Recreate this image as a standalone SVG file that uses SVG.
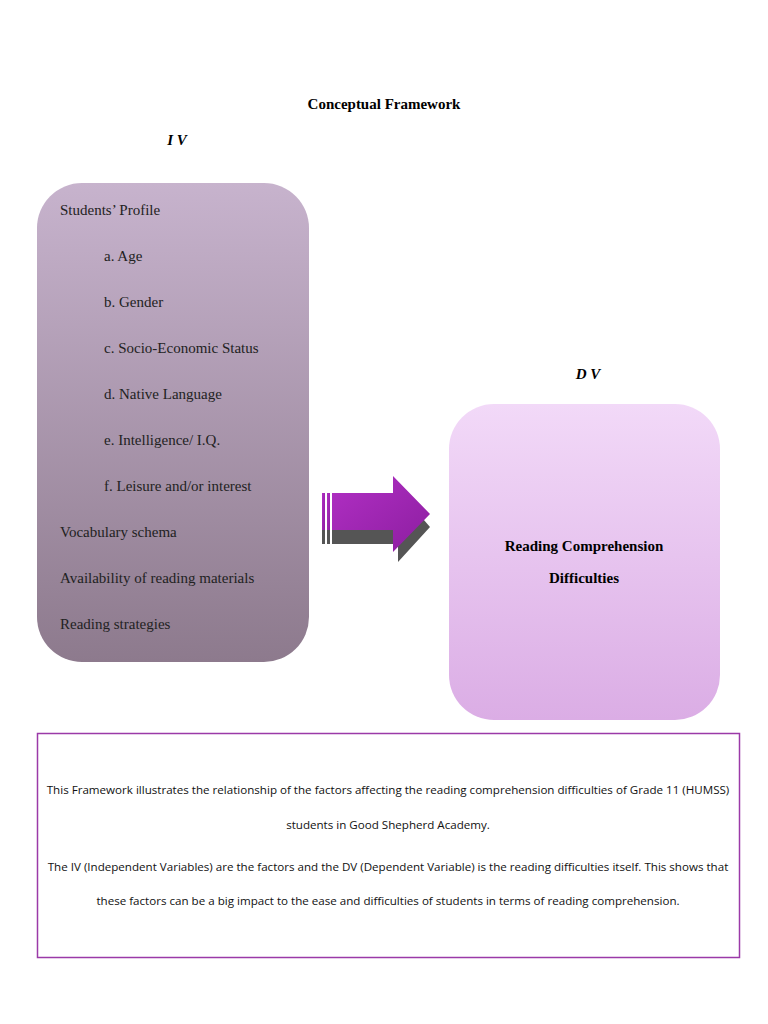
<svg xmlns="http://www.w3.org/2000/svg" width="768" height="1024" viewBox="0 0 768 1024">
<defs>
<linearGradient id="gl" x1="0" y1="0" x2="0" y2="1"><stop offset="0" stop-color="#c7b3cd"/><stop offset="1" stop-color="#8d7a8d"/></linearGradient>
<linearGradient id="gr" x1="0" y1="0" x2="0" y2="1"><stop offset="0" stop-color="#f2d9f8"/><stop offset="1" stop-color="#dbade5"/></linearGradient>
<linearGradient id="ga" x1="0" y1="0" x2="1" y2="1"><stop offset="0" stop-color="#b12fc4"/><stop offset="1" stop-color="#8c1ea0"/></linearGradient>
<style>
.s{font-family:"Liberation Serif",serif;font-size:15px;fill:#222}
.b{font-family:"Liberation Serif",serif;font-size:15px;font-weight:bold;fill:#000}
.c{font-family:"Open Sans","DejaVu Sans",sans-serif;font-size:11.6px;fill:#111}
</style>
</defs>
<rect width="768" height="1024" fill="#fff"/>
<text class="b" x="384" y="109" text-anchor="middle" font-size="17.5">Conceptual Framework</text>
<text class="b" x="177" y="145" text-anchor="middle" font-style="italic" font-size="18">I V</text>
<text class="b" x="588" y="379" text-anchor="middle" font-style="italic" font-size="18">D V</text>
<g id="iv">
<rect x="37" y="183" width="272" height="479" rx="45" fill="url(#gl)"/>
<text class="s" x="60" y="215">Students’ Profile</text>
<text class="s" x="104" y="261">a. Age</text>
<text class="s" x="104" y="307">b. Gender</text>
<text class="s" x="104" y="353">c. Socio-Economic Status</text>
<text class="s" x="104" y="399">d. Native Language</text>
<text class="s" x="104" y="445">e. Intelligence/ I.Q.</text>
<text class="s" x="104" y="491">f. Leisure and/or interest</text>
<text class="s" x="60" y="537">Vocabulary schema</text>
<text class="s" x="60" y="583">Availability of reading materials</text>
<text class="s" x="60" y="629">Reading strategies</text>
</g>
<g id="dv">
<rect x="449" y="404" width="271" height="316" rx="45" fill="url(#gr)"/>
<text class="b" x="584" y="551" text-anchor="middle">Reading Comprehension</text>
<text class="b" x="584" y="583" text-anchor="middle">Difficulties</text>
</g>
<g id="connectors">
<g fill="#555">
<rect x="322" y="504" width="3" height="40"/><rect x="327" y="504" width="3" height="40"/>
<polygon points="332,504 398,504 398,490 430,527 398,562 398,544 332,544"/>
</g>
<g fill="url(#ga)">
<rect x="322" y="493" width="3" height="37"/><rect x="327" y="493" width="3" height="37"/>
<polygon points="332,493 393,493 393,476 430,514 393,552 393,530 332,530"/>
</g>
</g>
<g id="note">
<rect x="37.5" y="733.5" width="702" height="224" fill="#fff" stroke="#9b3aa8" stroke-width="1.5"/>
<text class="c" x="388" y="794" text-anchor="middle">This Framework illustrates the relationship of the factors affecting the reading comprehension difficulties of Grade 11 (HUMSS)</text>
<text class="c" x="388" y="829" text-anchor="middle">students in Good Shepherd Academy.</text>
<text class="c" x="388" y="871" text-anchor="middle">The IV (Independent Variables) are the factors and the DV (Dependent Variable) is the reading difficulties itself. This shows that</text>
<text class="c" x="388" y="905" text-anchor="middle">these factors can be a big impact to the ease and difficulties of students in terms of reading comprehension.</text>
</g>
</svg>
